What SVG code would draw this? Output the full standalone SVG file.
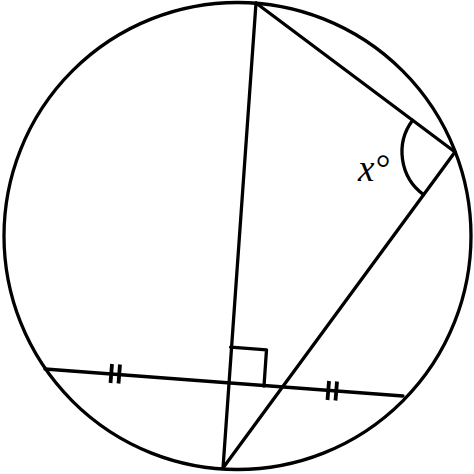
<svg xmlns="http://www.w3.org/2000/svg" width="474" height="474" viewBox="0 0 474 474">
<style>
.s{fill:none;stroke:#000;stroke-width:3.3;stroke-linecap:round;stroke-linejoin:round}
.k{fill:none;stroke:#000;stroke-width:3.8}
.t{font-family:"Liberation Serif","Times New Roman",serif;font-style:italic;font-size:37px;fill:#000}
</style>
<rect width="474" height="474" fill="#fff"/>
<g id="circle"><circle class="s" cx="237.5" cy="236" r="233.5"/></g>
<g id="connectors">
<line class="s" x1="256" y1="3" x2="223" y2="468"/>
<line class="s" x1="256" y1="3" x2="455" y2="152"/>
<line class="s" x1="455" y1="152" x2="223" y2="468"/>
<line class="s" x1="45" y1="369" x2="403" y2="396"/>
<path class="s" d="M230.6,347.1 L266.5,349.8 L264,386"/>
<path class="s" d="M412.6,120.2 A53,53 0 0 0 423.6,194.7"/>
<g id="ticks">
<line class="k" x1="112" y1="364" x2="110.5" y2="383"/>
<line class="k" x1="120" y1="364.5" x2="118.5" y2="383.5"/>
<line class="k" x1="329" y1="381" x2="327.5" y2="400"/>
<line class="k" x1="337" y1="381.5" x2="335.5" y2="400.5"/>
</g>
</g>
<g id="label"><text class="t" x="358" y="181">x°</text></g>
</svg>
